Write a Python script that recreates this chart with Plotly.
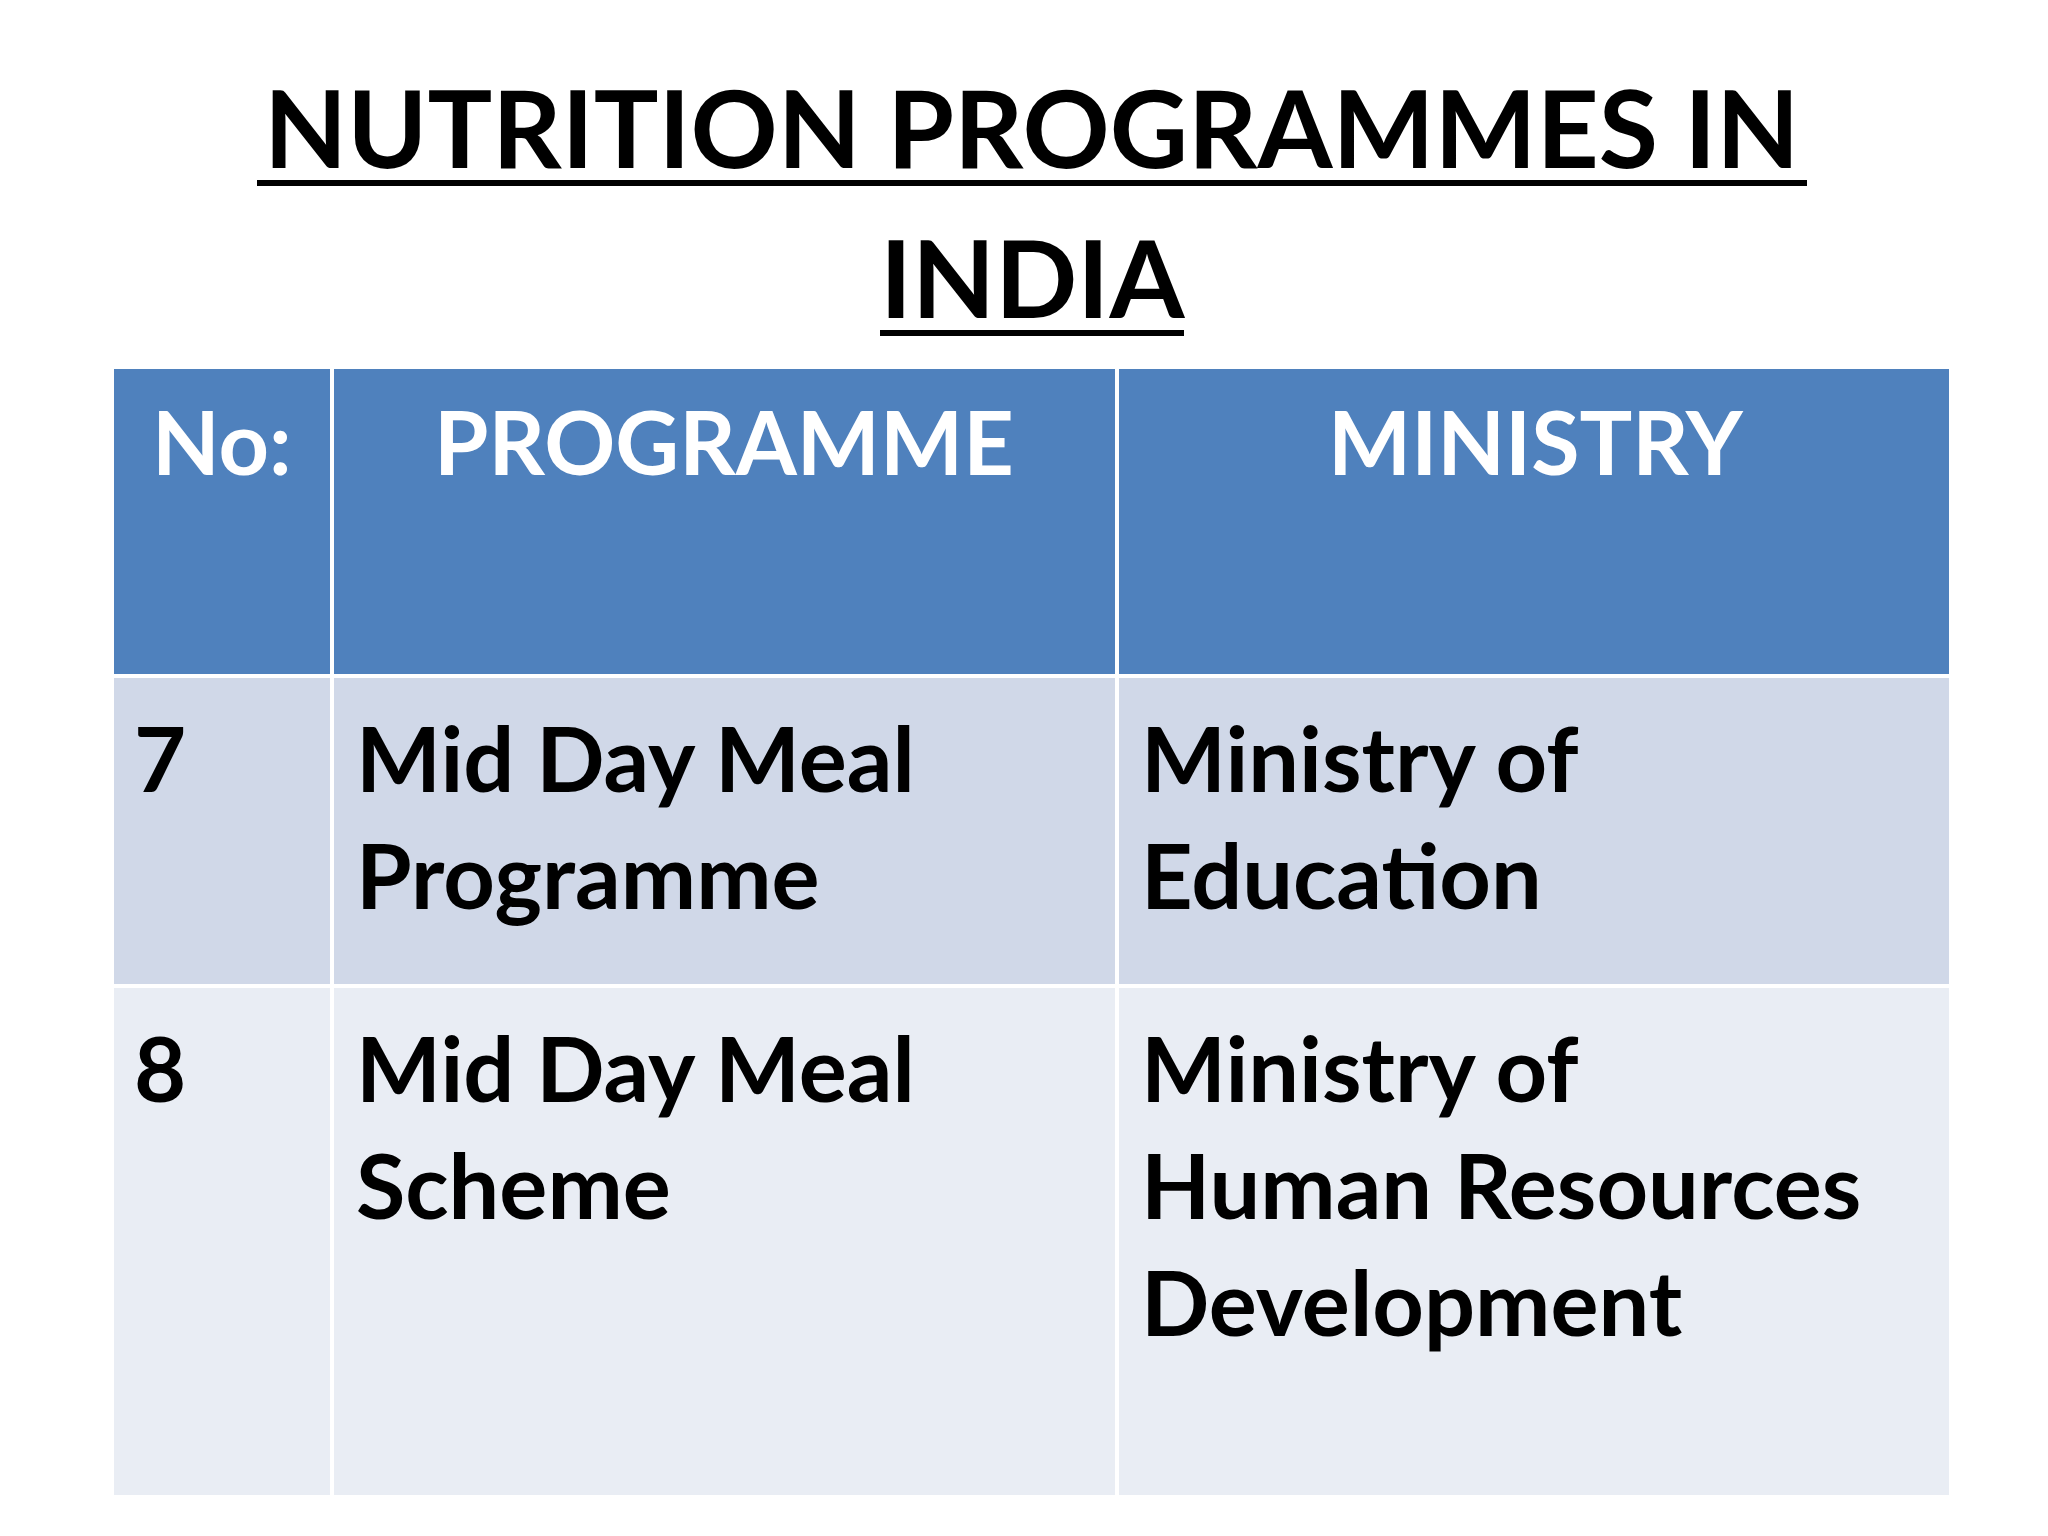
import plotly.graph_objects as go

# table contents
title_lines = ["NUTRITION PROGRAMMES IN", "INDIA"]
headers = ["No:", "PROGRAMME", "MINISTRY"]
row_no = ["7", "8"]
row_programme = ["Mid Day Meal<br>Programme", "Mid Day Meal<br>Scheme"]
row_ministry = ["Ministry of<br>Education", "Ministry of<br>Human Resources<br>Development"]

W, H = 2048, 1536
col_x = [104, 324, 1109, 1943]
row_y = [359, 668, 978, 1489]
fills = ["#4F81BD", "#D0D8E8", "#E9EDF4"]

fig = go.Figure()
shapes = []
for r in range(3):
    for c in range(3):
        shapes.append(dict(type="rect", x0=col_x[c], x1=col_x[c+1], y0=row_y[r], y1=row_y[r+1],
                           fillcolor=fills[r], line=dict(color="white", width=4), layer="below"))
# title underlines
shapes.append(dict(type="line", x0=249, x1=1799, y0=175, y1=175, line=dict(color="black", width=6)))
shapes.append(dict(type="line", x0=872, x1=1176, y0=325, y1=325, line=dict(color="black", width=6)))

ann = []
ann.append(dict(x=W/2+0, y=118, text="<b>" + title_lines[0] + "</b>", font=dict(size=108, color="black")))
ann.append(dict(x=1024, y=268, text="<b>" + title_lines[1] + "</b>", font=dict(size=108, color="black")))
head_x = [214, 716, 1528]
for hx, t in zip(head_x, headers):
    ann.append(dict(x=hx, y=433, text="<b>" + t + "</b>", font=dict(size=88, color="white")))
cell_font = dict(size=90, color="black")
for i in range(2):
    y0 = row_y[i+1] + 25
    ann.append(dict(x=124, y=y0, text="<b>" + row_no[i] + "</b>", font=cell_font, xanchor="left", yanchor="top", align="left"))
    ann.append(dict(x=346, y=y0, text="<b>" + row_programme[i] + "</b>", font=cell_font, xanchor="left", yanchor="top", align="left"))
    ann.append(dict(x=1131, y=y0, text="<b>" + row_ministry[i] + "</b>", font=cell_font, xanchor="left", yanchor="top", align="left"))
for a in ann:
    a.update(xref="x", yref="y", showarrow=False)
    a.setdefault("xanchor", "center")
    a.setdefault("yanchor", "middle")

fig.update_layout(
    width=W, height=H, margin=dict(l=0, r=0, t=0, b=0),
    plot_bgcolor="white", paper_bgcolor="white",
    font=dict(family="Lato"),
    shapes=shapes, annotations=ann,
    xaxis=dict(range=[0, W], visible=False),
    yaxis=dict(range=[H, 0], visible=False),
)
fig.write_html("out.html")
